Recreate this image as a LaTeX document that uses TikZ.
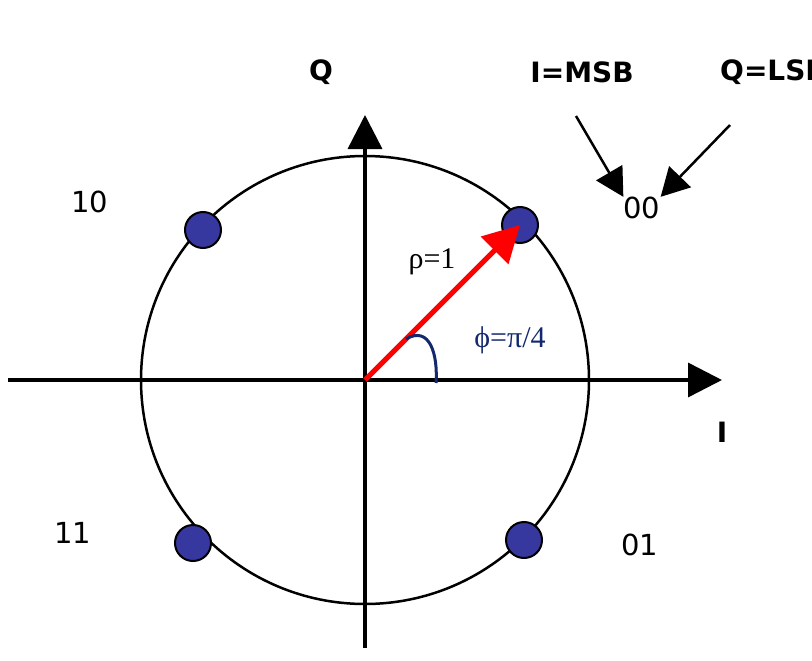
\documentclass[tikz,border=0pt]{standalone}
\usepackage{fontspec}
\setsansfont{DejaVu Sans}
\newfontfamily\grk{Liberation Serif}
\usetikzlibrary{arrows.meta}
\definecolor{dotblue}{RGB}{55,55,160}
\definecolor{navy}{RGB}{20,40,110}
\begin{document}
\begin{tikzpicture}[x=1pt,y=-1pt,
  lab/.style={font=\sffamily\fontsize{29}{31}\selectfont,inner sep=0},
  blab/.style={font=\sffamily\bfseries\fontsize{28}{30}\selectfont,inner sep=0},
  dot/.style={circle,draw=black,line width=2pt,fill=dotblue,minimum size=36pt,inner sep=0},
  big/.style={-{Triangle[length=34pt,width=34pt]},line width=3.5pt}]
\useasboundingbox (0,0) rectangle (812,661);
\coordinate (o) at (365,380);
\coordinate (xl) at (8,380); \coordinate (xr) at (722,380);
\coordinate (yb) at (365,648); \coordinate (yt) at (365,115);
\draw[line width=2.5pt] (o) circle (224);
\draw[big] (xl) -- (xr);
\draw[big] (yb) -- (yt);
\node[dot] (d00) at (520,225) {};
\node[dot] (d10) at (203,230) {};
\node[dot] (d11) at (193,543) {};
\node[dot] (d01) at (524,540) {};
\draw[red,line width=5pt,-{Triangle[length=36pt,width=38pt]}] (o) -- (d00.center);
\draw[navy,line width=3pt] (o) ++(-45:58) .. controls (430,325) and (438,355) .. (436,383);
\node[font=\grk\fontsize{30}{32}\selectfont,inner sep=0] (rho) at (432,262) {ρ=1};
\node[font=\grk\fontsize{30}{32}\selectfont,inner sep=0,text=navy] (phi) at (510,340) {ϕ=π/4};
\node[blab] (Q) at (321,72) {Q};
\node[blab] (I) at (722,432) {I};
\node[blab] (msb) at (582,72) {I=MSB};
\node[blab,anchor=west] (lsb) at (720,72) {Q=LSB};
\node[lab] (l00) at (642,208) {00};
\node[lab] (l10) at (90,202) {10};
\node[lab] (l11) at (73,533) {11};
\node[lab] (l01) at (640,545) {01};
\coordinate (a1) at (576,116); \coordinate (a2) at (730,125);
\draw[-{Triangle[length=28pt,width=30pt]},line width=2.5pt] (a1) -- (l00.north west);
\draw[-{Triangle[length=28pt,width=30pt]},line width=2.5pt] (a2) -- (l00.north east);
\end{tikzpicture}
\end{document}
